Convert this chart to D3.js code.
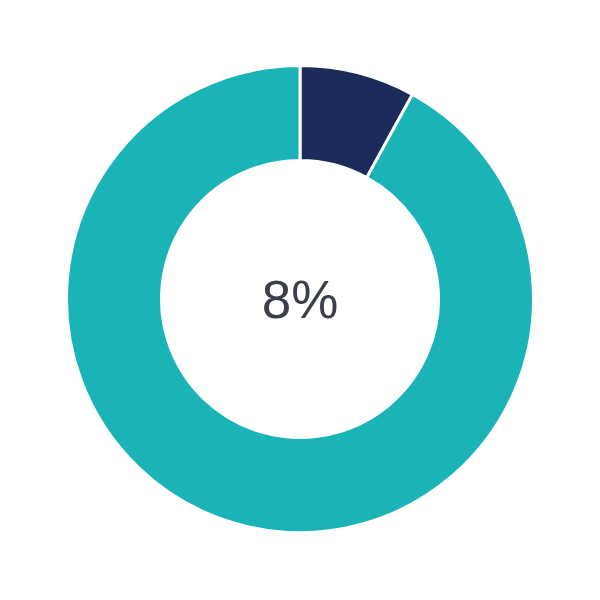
<!DOCTYPE html>
<html>
<head>
<meta charset="utf-8">
<script src="https://cdn.jsdelivr.net/npm/d3@7"></script>
<style>
  body { margin: 0; background: #fff; }
</style>
</head>
<body>
<div class="canvas"></div>
<script>
// slices of the ring, clockwise from 12 o'clock
const labels = ['Share', 'Rest'];
const values = [8, 92];
const colours = ['#1c2b59', '#1ab3b6'];
const centreText = '8%';

const svg = d3.select('.canvas').append('svg')
    .attr('width', 600)
    .attr('height', 600);

const group = svg.append('g')
    .attr('transform', 'translate(300,299)');

// white stroke eats 1.5px on each edge, so radii are padded for it
const pie = d3.pie().sort(null).value(d => d);
const arc = d3.arc().innerRadius(138.5).outerRadius(233.5);
const colour = d3.scaleOrdinal().domain(labels).range(colours);

group.selectAll('path')
    .data(pie(values))
    .enter().append('path')
    .attr('d', arc)
    .attr('fill', (d, i) => colour(labels[i]))
    .attr('stroke', '#fff')
    .attr('stroke-width', 3);

group.append('text')
    .attr('text-anchor', 'middle')
    .attr('dominant-baseline', 'central')
    .attr('y', 0)
    .attr('fill', '#3a3f4a')
    .style('font-family', 'Arial, Liberation Sans, sans-serif')
    .style('font-size', '53px')
    .text(centreText);
</script>
</body>
</html>
